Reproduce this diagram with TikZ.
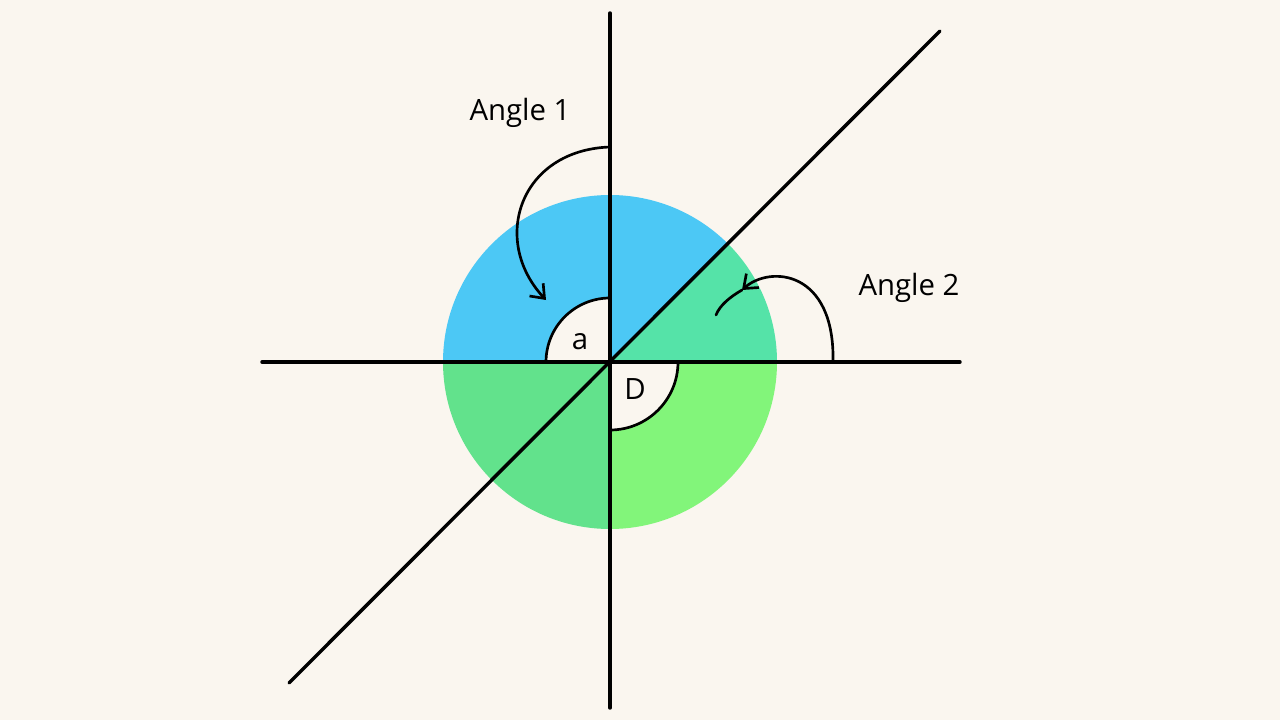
\documentclass[tikz,border=0pt]{standalone}
\usepackage{fontspec}
\setmainfont{Open Sans}
\usetikzlibrary{arrows.meta}
\definecolor{bg}{HTML}{FAF6EF}
\definecolor{cblue}{HTML}{4CC8F5}
\definecolor{cteal}{HTML}{55E3A8}
\definecolor{cgreen}{HTML}{62E28C}
\definecolor{clime}{HTML}{82F57A}
\tikzset{ax/.style={line width=2.6pt,line cap=round},
 arr/.style={line width=2pt,-{Straight Barb[length=9pt,width=14pt]}},
 lbl/.style={font=\fontsize{22}{24}\selectfont}}
\begin{document}
\begin{tikzpicture}[x=0.75pt,y=-0.75pt]
\fill[bg] (0,0) rectangle (1280,720);
\useasboundingbox (0,0) rectangle (1280,720);
\coordinate (O) at (610,362);
\def\R{167}
% quadrants (y axis flipped: screen-up angles are negative)
\fill[cblue] (O) -- (443,362) arc[start angle=180,end angle=270,radius=\R] -- cycle;
\fill[cblue] (O) -- (610,195) arc[start angle=270,end angle=315,radius=\R] -- cycle;
\fill[cteal] (O) -- (728.1,243.9) arc[start angle=315,end angle=360,radius=\R] -- cycle;
\fill[cgreen] (O) -- (443,362) arc[start angle=180,end angle=90,radius=\R] -- cycle;
\fill[clime] (O) -- (777,362) arc[start angle=0,end angle=90,radius=\R] -- cycle;
% small angle marks
\filldraw[fill=bg,line width=2pt] (O) -- (546,362) arc[start angle=180,end angle=270,radius=64] -- cycle;
\filldraw[fill=bg,line width=2pt] (O) -- (678,362) arc[start angle=0,end angle=90,radius=68] -- cycle;
% axes
\coordinate (vt) at (610,13); \coordinate (vb) at (610,708);
\coordinate (hl) at (262,362); \coordinate (hr) at (960,362);
\coordinate (dl) at (289,683); \coordinate (dr) at (940,31);
\draw[ax] (vt) -- (vb);
\draw[ax] (hl) -- (hr);
\draw[ax] (dl) -- (dr);
% labels
\node[lbl] (a1) at (520,113) {Angle 1};
\node[lbl] (a2) at (909,288) {Angle 2};
\node[lbl] (la) at (580,342) {a};
\node[lbl] (ld) at (635,389) {D};
% arrows
\coordinate (s1) at (610,147); \coordinate (e1) at (546,300);
\draw[arr] (s1) .. controls (520,150) and (490,240) .. (e1);
\coordinate (s2) at (833,362); \coordinate (e2) at (742,290);
\draw[arr] (s2) .. controls (835,270) and (770,265) .. (e2);
\coordinate (t2) at (716,315);
\draw[line width=2pt,line cap=round] (e2) .. controls (730,297) and (720,305) .. (t2);
\end{tikzpicture}
\end{document}
